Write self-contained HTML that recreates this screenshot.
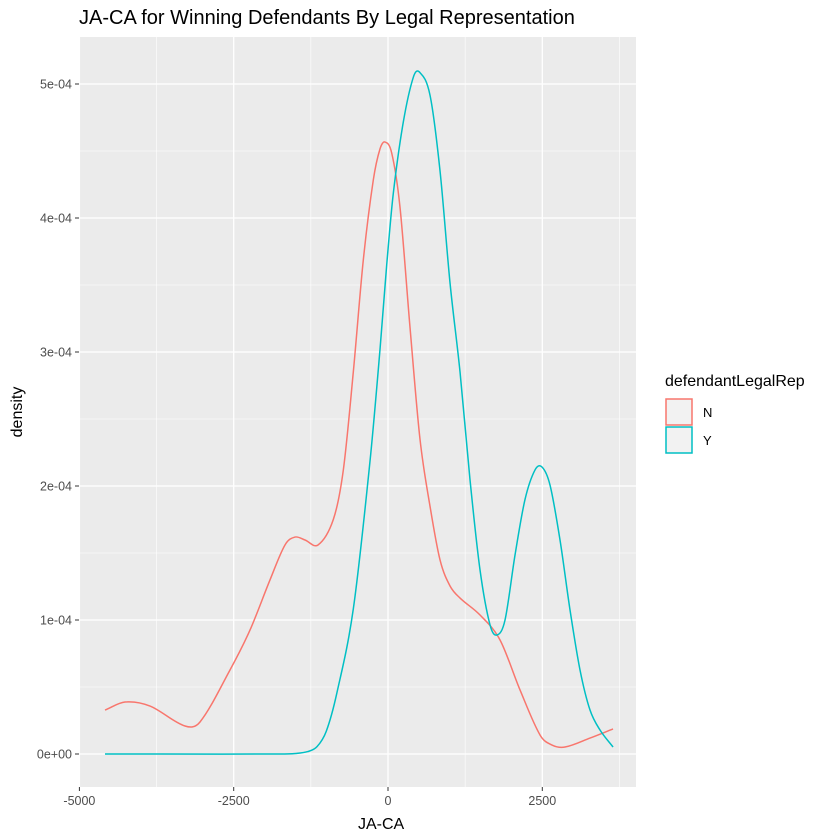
<!DOCTYPE html>
<html><head><meta charset="utf-8"><style>
body{margin:0;background:#fff;}
svg{display:block;font-family:"Liberation Sans",sans-serif;}
</style></head><body>
<svg id="chart" width="840" height="840" viewBox="0 0 840 840">
<text x="79" y="24" font-size="20" fill="#000">JA-CA for Winning Defendants By Legal Representation</text>
<rect x="79" y="37" width="557" height="750" fill="#ebebeb"/>
<g id="grid"></g>
<g id="series"></g>
<g id="axes"></g>
<text x="358" y="829" font-size="16">JA-CA</text>
<text transform="translate(22,412) rotate(-90)" text-anchor="middle" font-size="16">density</text>
<g>
<text x="665" y="386" font-size="16">defendantLegalRep</text>
<g><rect x="666" y="399" width="26" height="26" fill="#f2f2f2" stroke="#f8766d" stroke-width="1.5"/><text x="703" y="417" font-size="13">N</text></g>
<g><rect x="666" y="427" width="26" height="26" fill="#f2f2f2" stroke="#00bfc4" stroke-width="1.5"/><text x="703" y="445" font-size="13">Y</text></g>
</g>
</svg>
<script>
const xTicks=[-5000,-2500,0,2500];
const xTickLabels=["-5000","-2500","0","2500"];
const yTicks=[0,1e-4,2e-4,3e-4,4e-4,5e-4];
const yTickLabels=["0e+00","1e-04","2e-04","3e-04","4e-04","5e-04"];
const nX=[-4585,-4261,-3856,-3289,-3046,-2560,-2236,-1912,-1669,-1507,-1345,-1134,-886,-724,-562,-400,-238,-130,-49,60,194,356,518,680,843,1005,1167,1491,1815,2139,2463,2657,2868,3273,3646];
const nY=[.328,.388,.358,.209,.239,.627,.925,1.299,1.560,1.619,1.597,1.560,1.750,2.119,2.851,3.687,4.284,4.515,4.567,4.485,4.082,3.187,2.351,1.851,1.448,1.254,1.164,1.037,.851,.478,.142,.067,.052,.119,.187];
const yX=[-4585,-1750,-1500,-1300,-1150,-1000,-831,-562,-292,-130,-21,86,248,410,507,680,843,1005,1167,1329,1491,1653,1766,1896,2058,2220,2382,2495,2625,2787,2949,3111,3273,3435,3646];
const yY=[0,0,.004,.018,.055,.17,.450,1.083,2.183,3.016,3.650,4.184,4.716,5.050,5.090,4.918,4.351,3.515,2.851,2.045,1.373,.963,.888,1.0,1.485,1.90,2.12,2.142,2.007,1.597,1.075,.627,.328,.179,.052];
const NS="http://www.w3.org/2000/svg";
const sx=v=>388+v/2500*154.3;
const sy=v=>754-v/1e-4*134;
const grid=document.getElementById('grid'),axes=document.getElementById('axes'),ser=document.getElementById('series');
function mk(tag,attrs,parent){const e=document.createElementNS(NS,tag);for(const k in attrs)e.setAttribute(k,attrs[k]);parent.appendChild(e);return e;}
for(let i=0;i<xTicks.length;i++){const m=xTicks[i]+1250;if(sx(m)<636){const l=mk('line',{x1:sx(m),x2:sx(m),y1:37,y2:787,stroke:'#fff','stroke-width':0.6},grid);}}
for(let i=0;i<yTicks.length-1;i++){const m=(yTicks[i]+yTicks[i+1])/2;const l=mk('line',{x1:79,x2:636,y1:sy(m),y2:sy(m),stroke:'#fff','stroke-width':0.6},grid);}
xTicks.forEach((t,i)=>{const l=mk('line',{x1:sx(t),x2:sx(t),y1:37,y2:787,stroke:'#fff','stroke-width':1.3},grid);
mk('line',{x1:sx(t),x2:sx(t),y1:787,y2:791,stroke:'#333'},axes);
const tx=mk('text',{x:sx(t),y:805,'text-anchor':'middle','font-size':12.5,fill:'#4d4d4d'},axes);tx.textContent=xTickLabels[i];});
yTicks.forEach((t,i)=>{const l=mk('line',{x1:79,x2:636,y1:sy(t),y2:sy(t),stroke:'#fff','stroke-width':1.3},grid);
mk('line',{x1:75,x2:79,y1:sy(t),y2:sy(t),stroke:'#333'},axes);
const tx=mk('text',{x:72,y:sy(t)+4.5,'text-anchor':'end','font-size':12.5,fill:'#4d4d4d'},axes);tx.textContent=yTickLabels[i];});
function path(xs,ys){const p=xs.map((x,i)=>[sx(x),sy(ys[i]*1e-4)]);const n=p.length;
const m=p.map((q,i)=>{const a=p[Math.max(0,i-1)],b=p[Math.min(n-1,i+1)];return (b[1]-a[1])/(b[0]-a[0]);});
let d='M'+p[0][0]+','+p[0][1];
for(let i=0;i<n-1;i++){const dx=(p[i+1][0]-p[i][0])/3;
d+=' C'+(p[i][0]+dx)+','+(p[i][1]+m[i]*dx)+' '+(p[i+1][0]-dx)+','+(p[i+1][1]-m[i+1]*dx)+' '+p[i+1][0]+','+p[i+1][1];}return d;}
const a=mk('path',{d:path(nX,nY),fill:'none',stroke:'#f8766d','stroke-width':1.5},ser);


const b=mk('path',{d:path(yX,yY),fill:'none',stroke:'#00bfc4','stroke-width':1.5},ser);


</script>
</body></html>
